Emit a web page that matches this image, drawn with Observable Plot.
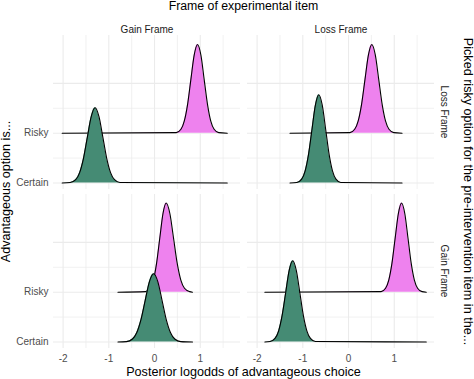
<!DOCTYPE html>
<html><head><meta charset="utf-8">
<script src="https://cdn.jsdelivr.net/npm/d3@7"></script>
<script src="https://cdn.jsdelivr.net/npm/@observablehq/plot@0.6"></script>
<style>
body{margin:0;background:#fff;}
#chart{width:474px;height:379px;}
</style>
</head><body><div id="chart"></div>
<script>
// ---- categories & labels ----
const frames = ["Gain Frame", "Loss Frame"];          // columns: frame of experimental item
const pickedRows = ["Loss Frame", "Gain Frame"];      // rows: picked risky option for the pre-intervention item in the...
const options = ["Certain", "Risky"];                 // advantageous option is...
const xMajorTicks = [-2, -1, 0, 1];
const xMinorTicks = [-1.5, -0.5, 0.5, 1.5];
const yMajorTicks = [1, 2, 3];
const yMinorTicks = [1.5, 2.5];
const titleTop = "Frame of experimental item";
const titleRight = "Picked risky option for the pre-intervention item in the...";
const titleX = "Posterior logodds of advantageous choice";
const titleY = "Advantageous option is...";

// ---- ridge profiles: [logodds, ridge height] ----
const gainItem_lossPick_risky = [[-2.02,0],[0.476,0.011],[0.578,0.078],[0.65,0.24],[0.723,0.579],[0.795,1.08],[0.868,1.57],[0.94,1.78],[1.013,1.57],[1.085,1.08],[1.158,0.579],[1.23,0.24],[1.303,0.078],[1.404,0.011],[1.59,0]];
const gainItem_lossPick_certain = [[-2.02,0],[-1.844,0.009],[-1.725,0.066],[-1.64,0.204],[-1.555,0.491],[-1.47,0.917],[-1.385,1.332],[-1.30,1.51],[-1.215,1.332],[-1.13,0.917],[-1.045,0.491],[-0.96,0.204],[-0.875,0.066],[-0.756,0.009],[1.59,0]];
const lossItem_lossPick_risky = [[-1.28,0],[0.03,0.011],[0.135,0.078],[0.21,0.24],[0.285,0.579],[0.36,1.08],[0.435,1.57],[0.51,1.78],[0.585,1.57],[0.66,1.08],[0.735,0.579],[0.81,0.24],[0.885,0.078],[0.99,0.011],[1.17,0]];
const lossItem_lossPick_certain = [[-1.28,0],[-1.13,0.011],[-1.025,0.078],[-0.95,0.239],[-0.875,0.575],[-0.80,1.074],[-0.725,1.561],[-0.65,1.77],[-0.575,1.561],[-0.50,1.074],[-0.425,0.575],[-0.35,0.239],[-0.275,0.078],[-0.17,0.011],[1.17,0]];
const gainItem_gainPick_risky = [[-0.80,0],[-0.193,0.011],[-0.095,0.079],[-0.025,0.242],[0.045,0.582],[0.115,1.087],[0.185,1.579],[0.255,1.79],[0.335,1.579],[0.415,1.087],[0.495,0.582],[0.575,0.242],[0.655,0.079],[0.767,0.011],[0.83,0]];
const gainItem_gainPick_certain = [[-0.80,0],[-0.612,0.008],[-0.483,0.06],[-0.39,0.185],[-0.298,0.445],[-0.205,0.832],[-0.113,1.208],[-0.02,1.37],[0.073,1.208],[0.165,0.832],[0.258,0.445],[0.35,0.185],[0.443,0.06],[0.572,0.008],[0.83,0]];
const lossItem_gainPick_risky = [[-1.83,0],[0.712,0.011],[0.81,0.079],[0.88,0.242],[0.95,0.582],[1.02,1.087],[1.09,1.579],[1.16,1.79],[1.23,1.579],[1.30,1.087],[1.37,0.582],[1.44,0.242],[1.51,0.079],[1.608,0.011],[1.70,0]];
const lossItem_gainPick_certain = [[-1.83,0],[-1.716,0.01],[-1.608,0.072],[-1.53,0.22],[-1.453,0.53],[-1.375,0.989],[-1.298,1.438],[-1.22,1.63],[-1.143,1.438],[-1.065,0.989],[-0.988,0.53],[-0.91,0.22],[-0.833,0.072],[-0.724,0.01],[1.70,0]];

const fillColors = {Certain: "#458B74", Risky: "#EE82EE"};

// ---- build tidy table ----
const rows = [];
function addRidge(frame, picked, option, pts) {
  const base = options.indexOf(option) + 1;
  pts.forEach(([x, h]) => rows.push({frame, picked, option, x, base, top: base + h}));
}
addRidge("Gain Frame", "Loss Frame", "Risky", gainItem_lossPick_risky);
addRidge("Gain Frame", "Loss Frame", "Certain", gainItem_lossPick_certain);
addRidge("Loss Frame", "Loss Frame", "Risky", lossItem_lossPick_risky);
addRidge("Loss Frame", "Loss Frame", "Certain", lossItem_lossPick_certain);
addRidge("Gain Frame", "Gain Frame", "Risky", gainItem_gainPick_risky);
addRidge("Gain Frame", "Gain Frame", "Certain", gainItem_gainPick_certain);
addRidge("Loss Frame", "Gain Frame", "Risky", lossItem_gainPick_risky);
addRidge("Loss Frame", "Gain Frame", "Certain", lossItem_gainPick_certain);

const riskyRows = rows.filter(d => d.option === "Risky");
const certainRows = rows.filter(d => d.option === "Certain");

function ridgeMarks(data, option) {
  return [
    Plot.area(data, {x1: "x", y1: "base", y2: "top", fx: "frame", fy: "picked",
      fill: fillColors[option], curve: "monotone-x"}),
    Plot.line(data, {x: "x", y: "top", fx: "frame", fy: "picked",
      stroke: "#000", strokeWidth: 1.1, curve: "monotone-x"})
  ];
}

const W = 474, H = 379;
const plot = Plot.plot({
  width: W, height: H,
  marginLeft: 53, marginRight: 39, marginTop: 34, marginBottom: 31,
  style: {fontFamily: "'Liberation Sans', Arial, sans-serif", fontSize: "10px", color: "#4D4D4D", background: "#fff"},
  x: {domain: [-2.21, 1.88], ticks: xMajorTicks, tickFormat: v => String(v), tickSize: 0, tickPadding: 6, label: null},
  y: {domain: [0.87, 3.96], ticks: [1, 2], tickFormat: v => options[v - 1], tickSize: 0, tickPadding: 5, label: null},
  fx: {domain: frames, padding: 0.036, axis: "top", tickSize: 0, tickPadding: 3, label: null},
  fy: {domain: pickedRows, padding: 0.032, axis: null},
  marks: [
    Plot.gridX(xMinorTicks, {stroke: "#EBEBEB", strokeOpacity: 1, strokeWidth: 0.7}),
    Plot.gridY(yMinorTicks, {stroke: "#EBEBEB", strokeOpacity: 1, strokeWidth: 0.7}),
    Plot.gridX(xMajorTicks, {stroke: "#EBEBEB", strokeOpacity: 1, strokeWidth: 1.1}),
    Plot.gridY(yMajorTicks, {stroke: "#EBEBEB", strokeOpacity: 1, strokeWidth: 1.1}),
    ...ridgeMarks(riskyRows, "Risky"),
    ...ridgeMarks(certainRows, "Certain")
  ]
});
document.getElementById("chart").append(plot);

// ---- titles and row strips ----
const svg = d3.select(plot);
svg.selectAll('g[aria-label="fx-axis tick label"] text').attr("fill", "#1A1A1A");
const fxS = plot.scale("fx"), fyS = plot.scale("fy");
const cx = (fxS.apply(frames[0]) + fxS.apply(frames[1]) + fxS.bandwidth) / 2;
const cy = (fyS.apply(pickedRows[0]) + fyS.apply(pickedRows[1]) + fyS.bandwidth) / 2;
const font = "'Liberation Sans', Arial, sans-serif";
svg.append("text").attr("x", cx).attr("y", 10).attr("text-anchor", "middle")
  .attr("fill", "#000").style("font-size", "12.3px").style("font-family", font).text(titleTop);
svg.append("text").attr("x", cx).attr("y", 376).attr("text-anchor", "middle")
  .attr("fill", "#000").style("font-size", "12.6px").style("font-family", font).text(titleX);
svg.append("text").attr("transform", `translate(9.5,${cy}) rotate(-90)`).attr("text-anchor", "middle")
  .attr("fill", "#000").style("font-size", "12.6px").style("font-family", font).text(titleY);
svg.append("text").attr("transform", `translate(464,${cy}) rotate(90)`).attr("text-anchor", "middle")
  .attr("fill", "#000").style("font-size", "12.6px").style("font-family", font).text(titleRight);
pickedRows.forEach(p => {
  const y = fyS.apply(p) + fyS.bandwidth / 2;
  svg.append("text").attr("transform", `translate(440.5,${y}) rotate(90)`).attr("text-anchor", "middle")
    .attr("fill", "#1A1A1A").style("font-size", "10px").style("font-family", font).text(p);
});
</script>
</body></html>
